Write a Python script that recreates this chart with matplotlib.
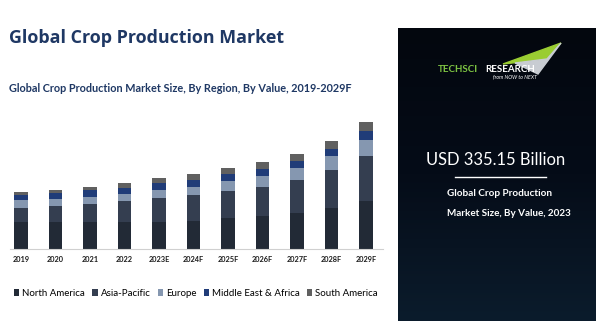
import numpy as np
import matplotlib
matplotlib.use("Agg")
import matplotlib.pyplot as plt
from matplotlib.patches import Polygon
from matplotlib.colors import LinearSegmentedColormap

plt.rcParams['font.family'] = ['Lato', 'DejaVu Sans']

# données (USD Bn)
years = ['2019', '2020', '2021', '2022', '2023E', '2024F', '2025F',
         '2026F', '2027F', '2028F', '2029F']
north_america = [127, 127, 127, 127, 127, 132, 146, 156, 170, 194, 227]
asia_pacific = [66, 76, 85, 99, 113, 123, 127, 137, 156, 179, 212]
europe = [38, 33, 33, 33, 38, 38, 47, 52, 57, 66, 76]
mea = [22, 27, 32, 30, 33, 33, 33, 33, 33, 33, 42]
south_america = [16, 16, 16, 22, 24, 30, 28, 33, 33, 38, 42]

series = [
    ('North America', north_america, '#222a36'),
    ('Asia-Pacific', asia_pacific, '#343e50'),
    ('Europe', europe, '#8597b0'),
    ('Middle East & Africa', mea, '#203c78'),
    ('South America', south_america, '#606060'),
]

W, H = 599, 332
fig = plt.figure(figsize=(W / 100, H / 100), dpi=100)

def fx(px):
    return px / W

def fy(py):
    return 1 - py / H

# panneau de droite (fond sombre)
bg = fig.add_axes([fx(398), fy(321), fx(596) - fx(398), fy(28) - fy(321)])
grad = np.linspace(0, 1, 200)[:, None] * np.ones((1, 50))
cmap = LinearSegmentedColormap.from_list('bg', ['#03070e', '#050c18', '#0b1c2c'])
bg.imshow(grad, aspect='auto', cmap=cmap, extent=[0, 1, 0, 1], origin='upper')
bg.set_xlim(0, 1)
bg.set_ylim(0, 1)
bg.axis('off')

# graphique
ax = fig.add_axes([fx(10), fy(249), fx(383) - fx(10), fy(110) - fy(249)])
x = np.arange(len(years))
bottom = np.zeros(len(years))
handles = []
for name, vals, col in series:
    b = ax.bar(x, vals, 0.4, bottom=bottom, color=col, label=name, linewidth=0)
    handles.append(b)
    bottom += np.array(vals)

ax.set_xlim(-0.32, 10.49)
ax.set_ylim(0, 656)
ax.set_yticks([])
ax.set_xticks(x)
ax.set_xticklabels(years, fontsize=5.3, fontweight='bold', color='#1a1a1a')
ax.tick_params(axis='x', length=0, pad=5)
for s in ['top', 'right', 'left']:
    ax.spines[s].set_visible(False)
ax.spines['bottom'].set_color('#d0d0d0')
ax.spines['bottom'].set_linewidth(0.8)
ax.patch.set_alpha(0)

fig.legend(handles=handles, loc='center left', bbox_to_anchor=(fx(14), fy(293)),
           ncol=5, frameon=False, fontsize=7.0, handlelength=0.55, handleheight=0.7,
           handletextpad=0.3, columnspacing=0.75, borderaxespad=0, borderpad=0)

# titres
fig.text(fx(9), fy(38), 'Global Crop Production Market', fontsize=12.9, fontweight='bold',
         family=['Open Sans', 'DejaVu Sans'], color='#1f3864', va='center', ha='left')
fig.text(fx(9), fy(89), 'Global Crop Production Market Size, By Region, By Value, 2019-2029F',
         fontsize=7.8, fontweight='bold', color='#1f3864', va='center', ha='left')

# logo
fig.patches.append(Polygon([(fx(503), fy(64)), (fx(561), fy(43)), (fx(547), fy(59))],
                           closed=True, color='#9acd32', transform=fig.transFigure))
fig.patches.append(Polygon([(fx(515), fy(63)), (fx(547), fy(59)), (fx(561), fy(43)), (fx(538), fy(74))],
                           closed=True, color='#c8ccd2', transform=fig.transFigure))
fig.text(fx(438), fy(69), 'TECHSCI', fontsize=7, fontweight='bold', color='#7cc242',
         va='center', ha='left')
fig.text(fx(485), fy(69), 'RESEARCH', fontsize=7, fontweight='bold', color='white',
         va='center', ha='left')
fig.text(fx(537), fy(77), 'from NOW to NEXT', fontsize=3.8, style='italic', color='white',
         va='center', ha='right')

# texte du panneau
fig.text(fx(496), fy(160), 'USD 335.15 Billion', fontsize=11.9, color='white',
         va='center', ha='center')
fig.add_artist(plt.Line2D([fx(455), fx(546)], [fy(177), fy(177)], color='white', lw=1))
fig.text(fx(447), fy(193), 'Global Crop Production', fontsize=7.2, fontweight='bold',
         color='white', va='center', ha='left')
fig.text(fx(447), fy(213), 'Market Size, By Value, 2023', fontsize=7.1, fontweight='bold',
         color='white', va='center', ha='left')

fig.savefig('out.png', dpi=100)
